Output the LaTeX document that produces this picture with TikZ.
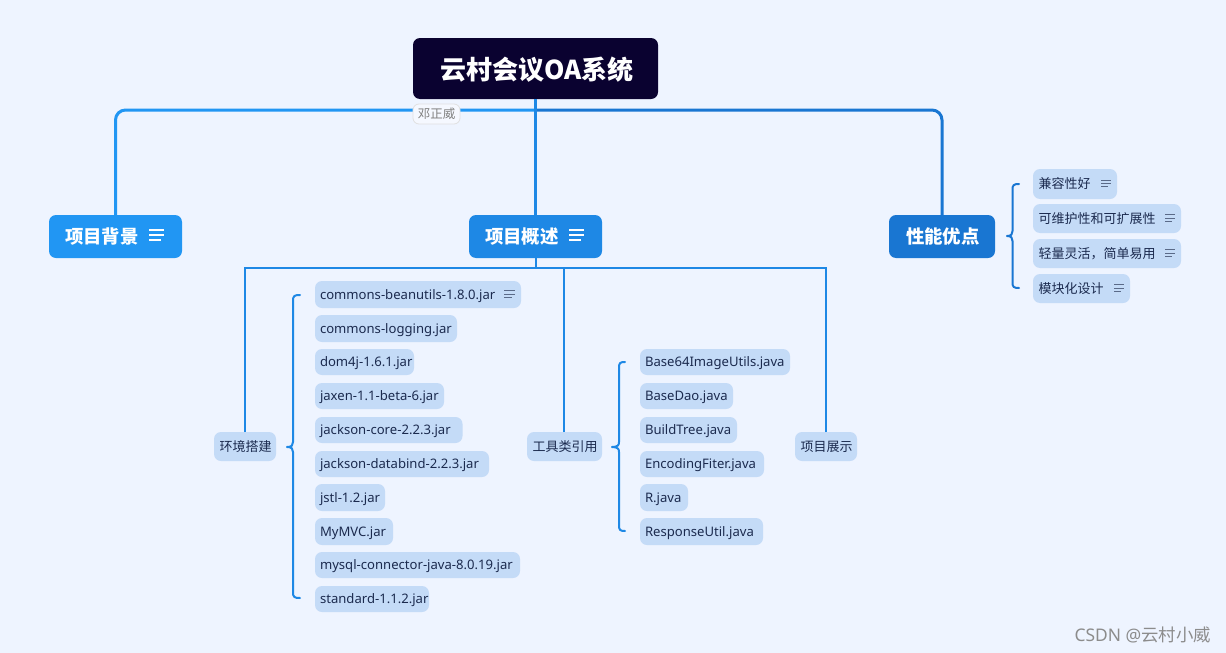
\documentclass[tikz,border=0pt]{standalone}
\usepackage{fontspec}
\setmainfont{Noto Sans}
\newfontfamily\cjk{Noto Sans CJK SC}
\definecolor{bgc}{HTML}{EEF4FF}
\definecolor{rootc}{HTML}{0A0230}
\definecolor{leafc}{HTML}{C4DBF7}
\definecolor{inkc}{HTML}{1B2A4E}
\definecolor{blueA}{HTML}{2196F3}
\definecolor{blueB}{HTML}{1E88E5}
\definecolor{blueC}{HTML}{1976D2}
\definecolor{iconc}{HTML}{5A6A88}
\tikzset{
  mmdrop/.code={\def\mmdropval{#1}},
  box/.style={rectangle,rounded corners=7pt,inner ysep=0pt,outer sep=0pt,font=\cjk\fontsize{13}{15}\selectfont,text=inkc,fill=leafc,align=left,mmdrop=4.6},
  topic/.style={box,rounded corners=7pt,text=white,font=\cjk\bfseries\fontsize{18.4}{22}\selectfont,mmdrop=7},
  bus/.style={line width=3pt,line cap=butt},
  sub/.style={line width=2pt,color=blueB},
  curly/.style={line width=2pt,line cap=round,line join=round},
}
% name x0 x1 y0 y1 padding style text
\newcommand{\mmbox}[8]{%
  \pgfmathsetmacro{\mmw}{#3-#2}\pgfmathsetmacro{\mmh}{#5-#4}%
  \pgfmathsetmacro{\mmcx}{(#2+#3)/2}\pgfmathsetmacro{\mmcy}{(#4+#5)/2}%
  \pgfmathsetmacro{\mmtw}{#3-#2-2*#6}%
  \node[box,#7,minimum width=\mmw pt,minimum height=\mmh pt,text width=\mmtw pt,inner xsep=#6 pt] (#1) at (\mmcx,\mmcy) {\mbox{\raisebox{-\mmdropval pt}[0pt][0pt]{#8}}};}
\newcommand{\jar}[6]{\mmbox{#1}{#2}{#3}{#4}{#5}{5}{font=\fontsize{13.1}{15}\selectfont,mmdrop=4.6}{#6}}
\newcommand{\zh}[6]{\mmbox{#1}{#2}{#3}{#4}{#5}{5.5}{}{#6}}
% x0 x1 ymid spacing color width
\newcommand{\noteicon}[6]{%
  \draw[#4,line width=#5pt] (#1,#3-#6) -- (#2,#3-#6);
  \draw[#4,line width=#5pt] (#1,#3) -- (#2,#3);
  \draw[#4,line width=#5pt] (#1,#3+#6) -- (#2-3,#3+#6);}
% tipx spinex endx ytop ytip ybot color
\newcommand{\mmbrace}[7]{%
  \draw[curly,#7] (#3,#4) .. controls (#2+1,#4) and (#2,#4+1) .. (#2,#4+6)
    -- (#2,#5-5) .. controls (#2,#5-2) and (#2-1,#5) .. (#1,#5)
    .. controls (#2-1,#5) and (#2,#5+2) .. (#2,#5+5)
    -- (#2,#6-6) .. controls (#2,#6-1) and (#2+1,#6) .. (#3,#6);}
\begin{document}
\begin{tikzpicture}[x=1pt,y=-1pt]
\useasboundingbox[fill=bgc] (0,0) rectangle (1226,653);
% nodes
\mmbox{bg}{49}{182}{215}{258}{16}{topic,fill=blueA}{项目背景}
\mmbox{ov}{469}{602}{215}{258}{16}{topic,fill=blueB}{项目概述}
\mmbox{perf}{889}{995}{215}{258}{17}{topic,fill=blueC}{性能优点}
\coordinate (busmid) at (535.5,110);
\coordinate (junc) at (535.5,268);
% main connectors
\draw[bus,blueA,rounded corners=10pt] (bg.north) |- (busmid);
\draw[bus,blueC,rounded corners=10pt] (perf.north) |- (busmid);
\mmbox{root}{413}{658}{38}{99}{27}{topic,fill=rootc,font=\cjk\bfseries\fontsize{26}{30}\selectfont,mmdrop=10.5}{云村会议OA系统}
\draw[bus,blueB] (root.south) -- (ov.north);
\node[rectangle,rounded corners=6pt,draw=black!12,fill=bgc!60!white,line width=.8pt,minimum width=47pt,minimum height=20pt,inner sep=0pt,font=\cjk\fontsize{12.5}{14}\selectfont,text=black!50] (author) at (436.5,114) {邓正威};
% sub topics
\zh{env}{214}{276}{432}{461}{环境搭建}
\zh{tool}{527}{602}{432}{461}{工具类引用}
\zh{show}{795}{857}{432}{461}{项目展示}
\draw[sub] (ov.south) -- (junc);
\draw[sub] (env.north) |- (junc);
\draw[sub] ([xshift=-1pt]tool.north) |- (junc);
\draw[sub] (show.north) |- (junc);
% jars
\jar{j1}{315}{521}{281}{308}{commons-beanutils-1.8.0.jar}
\jar{j2}{315}{457}{315}{342}{commons-logging.jar}
\jar{j3}{315}{414}{349}{375}{dom4j-1.6.1.jar}
\jar{j4}{315}{444}{383}{409}{jaxen-1.1-beta-6.jar}
\jar{j5}{315}{462.5}{417}{443}{jackson-core-2.2.3.jar}
\jar{j6}{315}{489}{451}{477}{jackson-databind-2.2.3.jar}
\jar{j7}{315}{385}{484}{511}{jstl-1.2.jar}
\jar{j8}{315}{393}{518}{545}{MyMVC.jar}
\jar{j9}{315}{520}{552}{578}{mysql-connector-java-8.0.19.jar}
\jar{j10}{315}{429}{586}{612}{standard-1.1.2.jar}
\noteicon{504}{515}{294}{iconc}{1}{3.2}
\mmbrace{287}{293}{300}{295}{447}{598}{blueB}
% tools
\jar{t1}{640}{790}{349}{375}{Base64ImageUtils.java}
\jar{t2}{640}{733}{383}{409}{BaseDao.java}
\jar{t3}{640}{737}{417}{443}{BuildTree.java}
\jar{t4}{640}{764}{451}{477}{EncodingFiter.java}
\jar{t5}{640}{688}{484}{511}{R.java}
\jar{t6}{640}{763}{518}{545}{ResponseUtil.java}
\mmbrace{612}{619}{625}{362}{447}{531}{blueB}
% performance
\zh{p1}{1033}{1117}{169}{199}{兼容性好}
\zh{p2}{1033}{1181}{204}{233}{可维护性和可扩展性}
\zh{p3}{1033}{1181}{239}{268}{轻量灵活，简单易用}
\zh{p4}{1033}{1130}{274}{303}{模块化设计}
\noteicon{1101}{1111}{183.5}{iconc}{1}{3.2}
\noteicon{1165}{1175}{218}{iconc}{1}{3.2}
\noteicon{1165}{1175}{253}{iconc}{1}{3.2}
\noteicon{1114}{1124}{288}{iconc}{1}{3.2}
\mmbrace{1007}{1012.5}{1019}{184}{236}{288}{blueC}
% topic icons
\noteicon{149}{164}{234.5}{white}{2}{5}
\noteicon{569}{584}{234.5}{white}{2}{5}
% watermark
\node[anchor=east,inner sep=0pt,text=black!45,font=\fontsize{17.4}{19}\selectfont] (mark) at (1211,635) {CSDN @{\cjk 云村小威}};
\end{tikzpicture}
\end{document}
